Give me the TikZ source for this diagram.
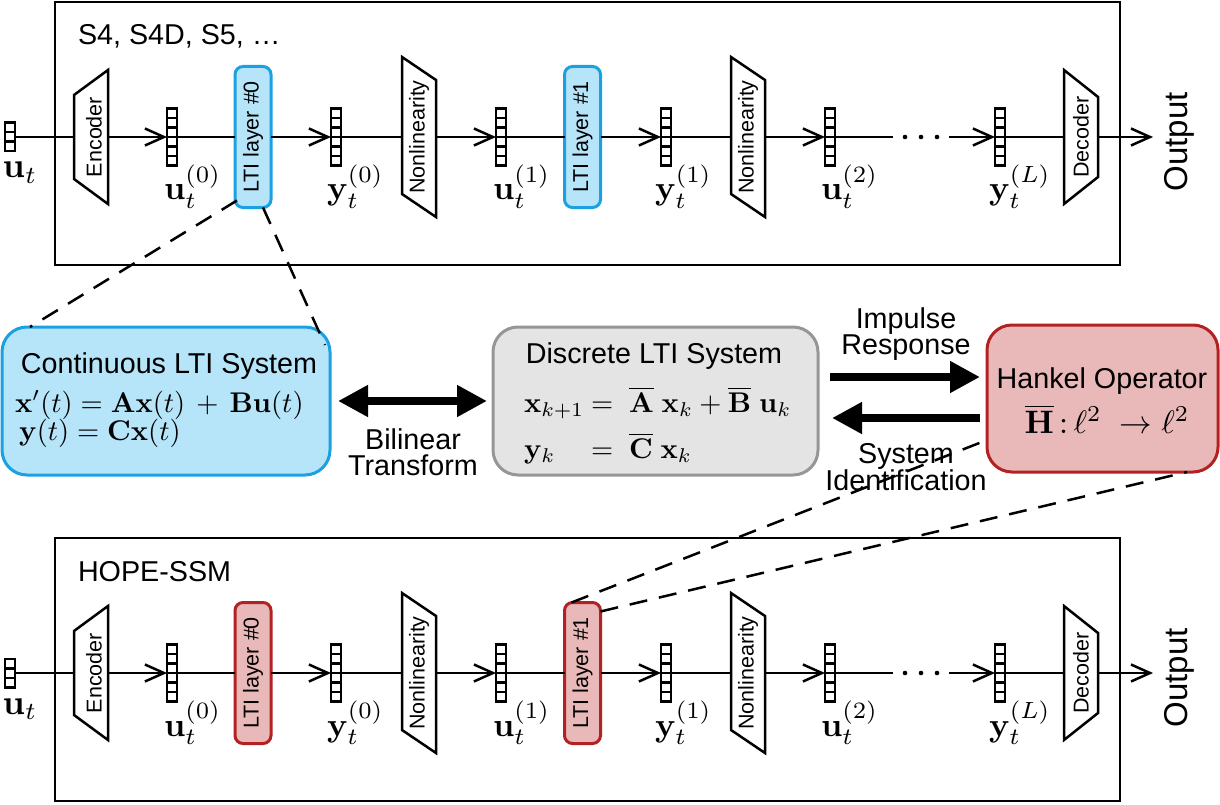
\documentclass[tikz,border=0pt]{standalone}
\usepackage[no-math]{fontspec}
\setmainfont{Liberation Sans}
\usepackage{graphicx}
\usetikzlibrary{arrows.meta}
\definecolor{ltiblueF}{RGB}{182,228,249}
\definecolor{ltiblueD}{RGB}{27,161,226}
\definecolor{ltiredF}{RGB}{233,184,184}
\definecolor{ltiredD}{RGB}{178,34,34}
\definecolor{grayF}{RGB}{228,228,228}
\definecolor{grayD}{RGB}{150,150,150}
\newcommand\mth[2]{\scalebox{#1}{\fontsize{10}{12}\selectfont$#2$}}
\newcommand\txtsz{\fontsize{28.7}{26.5}\selectfont}
\newcommand\rotsz{\fontsize{21.5}{22}\selectfont}
\newcommand\outsz{\fontsize{33}{33}\selectfont}
\newcommand\stackdiv[2]{\foreach \k in {1,...,#2}{\draw[wire] ([yshift=-\k*9.5pt]#1.north west) -- ([yshift=-\k*9.5pt]#1.north east);}}
\tikzset{
  every node/.style={inner sep=0pt, outer sep=0pt},
  wire/.style={line width=2.5pt},
  flow/.style={wire, -{Straight Barb[length=19pt,width=17pt]}},
  cellstack/.style={draw, line width=2.5pt, minimum width=10pt, minimum height=#1},
  blockshape/.style={minimum width=34pt, minimum height=#1},
  lti/.style={draw=#1D, fill=#1F, line width=3pt, rounded corners=8pt, minimum width=36pt, minimum height=141pt},
  frame/.style={draw, line width=2.5pt},
  sys/.style={line width=3pt, rounded corners=25pt},
  bigarrow/.style={line width=7.5pt, -{Triangle[length=30pt,width=30pt]}},
  bigdarrow/.style={line width=7.5pt, {Triangle[length=30pt,width=30pt]}-{Triangle[length=30pt,width=30pt]}},
  guide/.style={line width=2.5pt, dash pattern=on 18pt off 12pt},
  lab/.style={anchor=base west},
}
\begin{document}
\begin{tikzpicture}[x=1pt,y=-1pt]
\useasboundingbox (0,0) rectangle (1220,805);
\foreach \r/\yy/\clr/\ttl in {t/137/ltiblue/{S4, S4D, S5, …},b/673/ltired/{HOPE-SSM}}{
  \node[frame, minimum width=1065pt, minimum height=263pt] (frame\r) at (587.5,\yy-3.5) {};
  \node[anchor=base west, font=\txtsz] (title\r) at (78,\yy-92) {\ttl};
  % input
  \node[cellstack=28.5pt] (in\r) at (10,\yy) {};
  \stackdiv{in\r}{2}
  \node[anchor=base] (lin\r) at (20,\yy+41) {\mth{3.5}{\mathbf{u}_t}};
  % encoder
  \node[blockshape=134pt] (enc\r) at (91,\yy) {\rotsz\hspace*{6pt}\rotatebox{90}{Encoder}};
  \draw[wire] ([yshift=-25pt]enc\r.north west) -- (enc\r.north east) -- (enc\r.south east) -- ([yshift=25pt]enc\r.south west) -- cycle;
  % stacks
  \node[cellstack=57pt] (u0\r) at (172,\yy) {};
  \node[cellstack=57pt] (y0\r) at (336,\yy) {};
  \node[cellstack=57pt] (u1\r) at (501,\yy) {};
  \node[cellstack=57pt] (y1\r) at (666,\yy) {};
  \node[cellstack=57pt] (u2\r) at (830,\yy) {};
  \node[cellstack=57pt] (yL\r) at (1000,\yy) {};
  \stackdiv{u0\r}{5} \stackdiv{y0\r}{5} \stackdiv{u1\r}{5}
  \stackdiv{y1\r}{5} \stackdiv{u2\r}{5} \stackdiv{yL\r}{5}
  \node[lab] (lu0\r) at (164,\yy+63) {\mth{3.35}{\mathbf{u}_t^{(0)}}};
  \node[lab] (ly0\r) at (327,\yy+63) {\mth{3.35}{\mathbf{y}_t^{(0)}}};
  \node[lab] (lu1\r) at (493,\yy+63) {\mth{3.35}{\mathbf{u}_t^{(1)}}};
  \node[lab] (ly1\r) at (655,\yy+63) {\mth{3.35}{\mathbf{y}_t^{(1)}}};
  \node[lab] (lu2\r) at (821,\yy+63) {\mth{3.35}{\mathbf{u}_t^{(2)}}};
  \node[lab] (lyL\r) at (989,\yy+63) {\mth{3.35}{\mathbf{y}_t^{(L)}}};
  % LTI layers
  \node[lti=\clr] (lti0\r) at (253,\yy) {\rotsz\rotatebox{90}{LTI layer \#0}};
  \node[lti=\clr] (lti1\r) at (582.5,\yy) {\rotsz\rotatebox{90}{LTI layer \#1}};
  % nonlinearities
  \node[blockshape=160pt] (nl0\r) at (419,\yy) {\rotsz\rotatebox{90}{Nonlinearity}};
  \node[blockshape=160pt] (nl1\r) at (748,\yy) {\rotsz\rotatebox{90}{Nonlinearity}};
  \draw[wire] (nl0\r.north west) -- ([yshift=23pt]nl0\r.south west) -- (nl0\r.south east) -- ([yshift=-23pt]nl0\r.north east) -- cycle;
  \draw[wire] (nl1\r.north west) -- ([yshift=23pt]nl1\r.south west) -- (nl1\r.south east) -- ([yshift=-23pt]nl1\r.north east) -- cycle;
  % dots
  \node[minimum width=56pt, minimum height=10pt] (dots\r) at (921,\yy) {};
  \fill ([xshift=-16pt]dots\r.center) circle (2.3pt);
  \fill (dots\r.center) circle (2.3pt);
  \fill ([xshift=16pt]dots\r.center) circle (2.3pt);
  % decoder
  \node[blockshape=134pt] (dec\r) at (1081,\yy) {\rotsz\rotatebox{90}{Decoder}};
  \draw[wire] (dec\r.north west) -- ([yshift=-27pt]dec\r.north east) -- ([yshift=27pt]dec\r.south east) -- (dec\r.south west) -- cycle;
  \node[font=\outsz] (out\r) at (1179,\yy+5) {\rotatebox{90}{Output}};
  % connectors
  \draw[wire] (in\r) -- (enc\r);
  \draw[flow] (enc\r) -- (u0\r);
  \draw[wire] (u0\r) -- (lti0\r);
  \draw[flow] (lti0\r) -- (y0\r);
  \draw[wire] (y0\r) -- (nl0\r);
  \draw[flow] (nl0\r) -- (u1\r);
  \draw[wire] (u1\r) -- (lti1\r);
  \draw[flow] (lti1\r) -- (y1\r);
  \draw[wire] (y1\r) -- (nl1\r);
  \draw[flow] (nl1\r) -- (u2\r);
  \draw[wire] (u2\r) -- (dots\r);
  \draw[flow] (dots\r) -- (yL\r);
  \draw[wire] (yL\r) -- (dec\r);
  \draw[flow, shorten >=11pt] (dec\r.east) -- (dec\r.east -| out\r.west);
}
% middle systems
\node[sys, draw=ltiblueD, fill=ltiblueF, minimum width=328pt, minimum height=148pt] (cont) at (166,401) {};
\node[anchor=base, font=\txtsz] (contT) at (169,373) {Continuous LTI System};
\node[anchor=base west] (contE1) at (15,412) {\mth{2.85}{\mathbf{x}'(t) = \mathbf{A}\mathbf{x}(t) \,+\, \mathbf{B}\mathbf{u}(t)}};
\node[anchor=base west] (contE2) at (19,440) {\mth{2.85}{\mathbf{y}(t) = \mathbf{C}\mathbf{x}(t)}};

\node[sys, draw=grayD, fill=grayF, minimum width=325pt, minimum height=148pt] (disc) at (655.5,401) {};
\node[anchor=base, font=\txtsz] (discT) at (654,363) {Discrete LTI System};
\node[anchor=base west] (discL1) at (524,412) {\mth{2.85}{\mathbf{x}_{k+1}}};
\node[anchor=base west] (discR1) at (591,412) {\mth{2.85}{=\;\overline{\mathbf{A}}\;\mathbf{x}_k+\overline{\mathbf{B}}\;\mathbf{u}_k}};
\node[anchor=base west] (discL2) at (524,458) {\mth{2.85}{\mathbf{y}_k}};
\node[anchor=base west] (discR2) at (591,458) {\mth{2.85}{=\;\overline{\mathbf{C}}\;\mathbf{x}_k}};

\node[sys, draw=ltiredD, fill=ltiredF, minimum width=231pt, minimum height=147pt] (hank) at (1102.5,398.5) {};
\node[anchor=base, font=\txtsz] (hankT) at (1102,388) {Hankel Operator};
\node[anchor=base] (hankE) at (1107,433) {\mth{3.25}{\overline{\mathbf{H}}\,{:}\,\ell^2\;\to\ell^2}};

% thick arrows
\draw[bigdarrow, shorten <=8pt, shorten >=6pt] (cont.east) -- (disc.west);
\node[align=center, font=\txtsz] (bilin) at (413,452) {Bilinear\\Transform};
\coordinate (irs) at ([xshift=12pt,yshift=24pt]disc.east);
\draw[bigarrow, shorten >=7pt] (irs) -- (irs -| hank.west);
\node[align=center, font=\txtsz] (impl) at (906,334) {Impulse\\Response};
\coordinate (sie) at ([xshift=14pt,yshift=-17pt]disc.east);
\draw[bigarrow, shorten <=7pt] (sie -| hank.west) -- (sie);
\node[align=center, font=\txtsz] (sysid) at (906,467) {System\\Identification};

% zoom guides
\draw[guide] ([xshift=2pt,yshift=7pt]lti0t.south west) -- ([xshift=28pt]cont.north west);
\draw[guide] ([xshift=-8pt]lti0t.south east) -- ([xshift=-5pt,yshift=-18pt]cont.north east);
\draw[guide] ([xshift=7pt]lti1b.north west) -- ([yshift=-41.5pt]hank.west);
\draw[guide] ([yshift=-9pt]lti1b.north east) -- ([xshift=-31pt]hank.south east);
\end{tikzpicture}
\end{document}
